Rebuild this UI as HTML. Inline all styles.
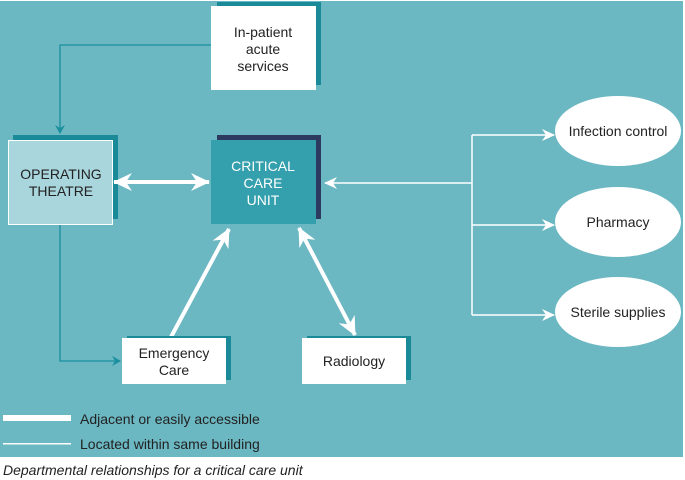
<!DOCTYPE html>
<html><head><style>
body{margin:0;width:685px;height:480px;background:#fff;overflow:hidden}
svg{display:block}
text{font-family:"Liberation Sans",sans-serif}
</style></head><body>
<svg width="685" height="480" viewBox="0 0 685 480">
<defs>
<marker id="th" markerWidth="14" markerHeight="12" refX="12" refY="6" orient="auto" markerUnits="userSpaceOnUse"><path d="M0,0 L13,6 L0,12 L4,6 Z" fill="#fff"/></marker>
<marker id="tt" markerWidth="10" markerHeight="12" refX="8" refY="5" orient="auto" markerUnits="userSpaceOnUse"><path d="M0,0 L9,5 L0,10 L3,5 Z" fill="#1a8f9e"/></marker>
<marker id="big" markerWidth="20" markerHeight="18" refX="18" refY="9" orient="auto" markerUnits="userSpaceOnUse"><path d="M0,0 L19,9 L0,18 L6,9 Z" fill="#fff"/></marker>
<marker id="bigs" markerWidth="20" markerHeight="18" refX="2" refY="9" orient="auto" markerUnits="userSpaceOnUse"><path d="M20,0 L1,9 L20,18 L14,9 Z" fill="#fff"/></marker>
</defs>
<rect x="0" y="1" width="683" height="456" fill="#6bb7c2"/>
<polyline points="211,45 60,45 60,133" fill="none" stroke="#1a8f9e" stroke-width="1.3" marker-end="url(#tt)"/>
<polyline points="60,224 60,361 120,361" fill="none" stroke="#1a8f9e" stroke-width="1.3" marker-end="url(#tt)"/>
<rect x="217" y="2" width="104" height="83" fill="#1a8a99"/>
<rect x="211" y="6" width="105" height="84" fill="#fff"/>
<text x="263" y="37" font-size="14" text-anchor="middle" fill="#222">In-patient</text>
<text x="263" y="54" font-size="14" text-anchor="middle" fill="#222">acute</text>
<text x="263" y="71" font-size="14" text-anchor="middle" fill="#222">services</text>
<rect x="13" y="135" width="105" height="84" fill="#1a8a99"/>
<rect x="8.5" y="140.5" width="104" height="84" fill="#a9d5dd" stroke="#fff" stroke-width="1"/>
<text x="61" y="179" font-size="14" text-anchor="middle" fill="#222">OPERATING</text>
<text x="61" y="196" font-size="14" text-anchor="middle" fill="#222">THEATRE</text>
<rect x="217" y="135" width="104" height="84" fill="#2d3a60"/>
<rect x="211" y="140" width="105" height="84" fill="#349fad"/>
<text x="263" y="171" font-size="14" text-anchor="middle" fill="#fff">CRITICAL</text>
<text x="263" y="188" font-size="14" text-anchor="middle" fill="#fff">CARE</text>
<text x="263" y="205" font-size="14" text-anchor="middle" fill="#fff">UNIT</text>
<line x1="114" y1="182" x2="209" y2="182" stroke="#fff" stroke-width="4" marker-end="url(#big)" marker-start="url(#bigs)"/>
<line x1="171" y1="337" x2="229" y2="229" stroke="#fff" stroke-width="4" marker-end="url(#big)"/>
<line x1="299" y1="228" x2="355" y2="335" stroke="#fff" stroke-width="4" marker-end="url(#big)" marker-start="url(#bigs)"/>
<rect x="127" y="336" width="104" height="44" fill="#1a8a99"/>
<rect x="122" y="338" width="104" height="46" fill="#fff"/>
<text x="174" y="358" font-size="14" text-anchor="middle" fill="#222">Emergency</text>
<text x="174" y="375" font-size="14" text-anchor="middle" fill="#222">Care</text>
<rect x="307" y="336" width="104" height="44" fill="#1a8a99"/>
<rect x="302" y="338" width="104" height="46" fill="#fff"/>
<text x="354" y="366" font-size="14" text-anchor="middle" fill="#222">Radiology</text>
<line x1="472" y1="183" x2="325" y2="183" stroke="#fff" stroke-width="1.5" marker-end="url(#th)"/>
<line x1="472" y1="135" x2="472" y2="315" stroke="#fff" stroke-width="1.5"/>
<line x1="472" y1="135" x2="554" y2="135" stroke="#fff" stroke-width="1.5" marker-end="url(#th)"/>
<line x1="472" y1="225" x2="554" y2="225" stroke="#fff" stroke-width="1.5" marker-end="url(#th)"/>
<line x1="472" y1="315" x2="554" y2="315" stroke="#fff" stroke-width="1.5" marker-end="url(#th)"/>
<ellipse cx="618" cy="131" rx="63" ry="35" fill="#fff"/>
<ellipse cx="618" cy="222" rx="63" ry="35" fill="#fff"/>
<ellipse cx="618" cy="312" rx="63" ry="35" fill="#fff"/>
<text x="618" y="136" font-size="14" text-anchor="middle" fill="#222">Infection control</text>
<text x="618" y="227" font-size="14" text-anchor="middle" fill="#222">Pharmacy</text>
<text x="618" y="317" font-size="14" text-anchor="middle" fill="#222">Sterile supplies</text>
<rect x="3" y="415" width="68" height="6" fill="#fff"/>
<rect x="3" y="443" width="68" height="1.5" fill="#fff"/>
<text x="80" y="424" font-size="14" fill="#222">Adjacent or easily accessible</text>
<text x="80" y="449" font-size="14" fill="#222">Located within same building</text>
<text x="3" y="475" font-size="14" font-style="italic" fill="#222">Departmental relationships for a critical care unit</text>
</svg>
</body></html>
